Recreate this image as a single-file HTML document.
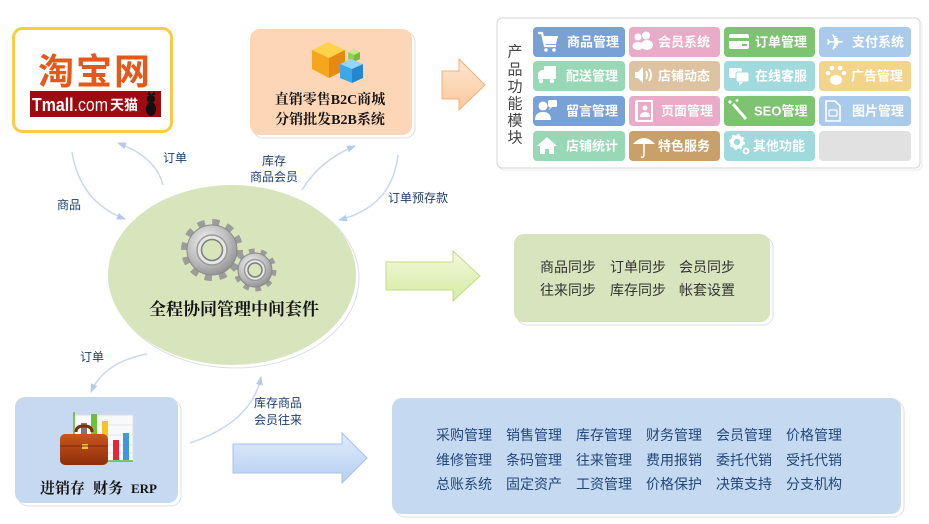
<!DOCTYPE html>
<html><head><meta charset="utf-8"><style>
html,body{margin:0;padding:0;background:#fff;}
svg{display:block;}
text{font-family:"Liberation Sans","Noto Sans CJK SC",sans-serif;}
.lbl{font-size:12px;fill:#1f3d6c;}
.tile{font-size:13px;font-weight:bold;fill:#fff;}
.ser{font-family:"Liberation Serif","Noto Serif CJK SC",serif;font-weight:bold;fill:#151515;}
.sync{font-size:14px;fill:#333;}
.erp{font-size:14px;fill:#24477a;}
</style></head><body>
<svg width="929" height="524" viewBox="0 0 929 524" xmlns="http://www.w3.org/2000/svg">
<defs>
 <marker id="ah" markerWidth="10" markerHeight="8" refX="8" refY="4" orient="auto" markerUnits="userSpaceOnUse">
   <path d="M0,0.5 L9,4 L0,7.5 Z" fill="#b6cbe7"/>
 </marker>
 <linearGradient id="gOr" x1="0" y1="0" x2="0" y2="1"><stop offset="0" stop-color="#fee7d2"/><stop offset="1" stop-color="#fac79b"/></linearGradient>
 <linearGradient id="gGr" x1="0" y1="0" x2="0" y2="1"><stop offset="0" stop-color="#f3fadf"/><stop offset="1" stop-color="#d5eaa0"/></linearGradient>
 <linearGradient id="gBl" x1="0" y1="0" x2="0" y2="1"><stop offset="0" stop-color="#e0ecfb"/><stop offset="1" stop-color="#b5cef2"/></linearGradient>
 <radialGradient id="gGear" cx="0.4" cy="0.35" r="0.7"><stop offset="0" stop-color="#f4f4f4"/><stop offset="0.6" stop-color="#bdbdbd"/><stop offset="1" stop-color="#8d8d8d"/></radialGradient>
 <linearGradient id="gCase" x1="0" y1="0" x2="0" y2="1"><stop offset="0" stop-color="#c9561c"/><stop offset="1" stop-color="#8e2f0c"/></linearGradient>
</defs>

<!-- Taobao box -->
<rect x="13.5" y="28.5" width="158" height="103" rx="9" fill="#fff" stroke="#fbcb45" stroke-width="3"/>
<text x="95" y="84" text-anchor="middle" font-size="36" font-weight="bold" fill="#e4591b" style="font-family:'Liberation Sans','Noto Sans CJK SC',sans-serif;letter-spacing:2px">淘宝网</text>
<rect x="30" y="91" width="131" height="26" fill="#9d0b10"/>
<text x="32" y="111" font-size="18" fill="#fff" textLength="76" lengthAdjust="spacingAndGlyphs"><tspan font-weight="bold">Tmall</tspan>.com</text>
<text x="110" y="110" font-size="14" font-weight="bold" fill="#fff">天猫</text>
<ellipse cx="151" cy="109" rx="5" ry="7" fill="#111"/>
<circle cx="151" cy="99" r="4" fill="#111"/>
<path d="M148,95 l1,-3 l2,3 M152,95 l2,-3 l1,3" fill="#111" stroke="#111"/>

<!-- Peach box -->
<rect x="253" y="32" width="162" height="106" rx="10" fill="#fff" stroke="#dcdcdc"/>
<rect x="250" y="29" width="162" height="106" rx="10" fill="#fcd6b7"/>
<!-- cubes -->
<polygon points="312,50 328,42 345,50 329,58" fill="#ffd24c"/>
<polygon points="312,50 329,58 329,78 312,69" fill="#f6a51c"/>
<polygon points="329,58 345,50 345,70 329,78" fill="#e48a0e"/>
<polygon points="348,52 354,49 360,52 354,55" fill="#c4e88a"/>
<polygon points="348,52 354,55 354,62 348,59" fill="#94cf55"/>
<polygon points="354,55 360,52 360,59 354,62" fill="#7ab93e"/>
<polygon points="340,64 351,59 363,64 352,69" fill="#94d6f8"/>
<polygon points="340,64 352,69 352,83 340,78" fill="#3da8e8"/>
<polygon points="352,69 363,64 363,78 352,83" fill="#2388cf"/>
<text x="330" y="104" text-anchor="middle" font-size="14" class="ser">直销零售B2C商城</text>
<text x="330" y="124" text-anchor="middle" font-size="14" class="ser">分销批发B2B系统</text>

<!-- orange arrow -->
<polygon points="442,71 459,71 459,59 485,85 459,110 459,99 442,99" fill="url(#gOr)" stroke="#f3b07a" stroke-width="1"/>

<!-- product panel -->
<rect x="499" y="20" width="423" height="150" rx="5" fill="#fff" stroke="#ececec"/>
<rect x="497" y="18" width="423" height="150" rx="5" fill="#fff" stroke="#d6d6d6"/>
<g font-size="15" fill="#444" text-anchor="middle" dominant-baseline="central">
<text x="515" y="52">产</text><text x="515" y="70">品</text><text x="515" y="87">功</text><text x="515" y="104">能</text><text x="515" y="121">模</text><text x="515" y="138">块</text>
</g>
<!-- tiles -->
<rect x="533" y="27" width="92" height="30" rx="4" fill="#7aa1d5"/>
<rect x="629" y="27" width="91" height="30" rx="4" fill="#eaabc8"/>
<rect x="724" y="27" width="91" height="30" rx="4" fill="#7dc371"/>
<rect x="819" y="27" width="92" height="30" rx="4" fill="#aacaec"/>
<rect x="533" y="61" width="92" height="30" rx="4" fill="#98d8b6"/>
<rect x="629" y="61" width="91" height="30" rx="4" fill="#dec3a2"/>
<rect x="724" y="61" width="91" height="30" rx="4" fill="#a1dadd"/>
<rect x="819" y="61" width="92" height="30" rx="4" fill="#f2d58b"/>
<rect x="533" y="96" width="92" height="30" rx="4" fill="#7aa1d5"/>
<rect x="629" y="96" width="91" height="30" rx="4" fill="#eaabc8"/>
<rect x="724" y="96" width="91" height="30" rx="4" fill="#7dc371"/>
<rect x="819" y="96" width="92" height="30" rx="4" fill="#aacaec"/>
<rect x="533" y="131" width="92" height="30" rx="4" fill="#98d8b6"/>
<rect x="629" y="131" width="91" height="30" rx="4" fill="#c9a069"/>
<rect x="724" y="131" width="91" height="30" rx="4" fill="#a1dadd"/>
<rect x="819" y="131" width="92" height="30" rx="4" fill="#e1e1e1"/>
<g class="tile" dominant-baseline="central">
<text x="567" y="42">商品管理</text><text x="658" y="42">会员系统</text><text x="755" y="42">订单管理</text><text x="852" y="42">支付系统</text>
<text x="566" y="76">配送管理</text><text x="658" y="76">店铺动态</text><text x="755" y="76">在线客服</text><text x="851" y="76">广告管理</text>
<text x="566" y="111">留言管理</text><text x="661" y="111">页面管理</text><text x="754" y="111">SEO管理</text><text x="852" y="111">图片管理</text>
<text x="566" y="146">店铺统计</text><text x="658" y="146">特色服务</text><text x="753" y="146">其他功能</text>
</g>
<!-- tile icons -->
<g fill="#fff" stroke="none">
 <!-- cart -->
 <path d="M538,33 h4 l3,13 h11" fill="none" stroke="#fff" stroke-width="2.2"/>
 <path d="M543,36 h15 l-2,8 h-11 z" fill="#fff"/>
 <circle cx="546" cy="50" r="1.8"/><circle cx="554" cy="50" r="1.8"/>
 <!-- people -->
 <circle cx="638" cy="37" r="3.5"/><circle cx="646" cy="35.5" r="4"/>
 <ellipse cx="638" cy="46" rx="5.5" ry="4"/><ellipse cx="647" cy="45" rx="6" ry="5"/>
 <!-- card -->
 <rect x="729" y="34" width="20" height="15" rx="2"/>
 <rect x="729" y="38" width="20" height="3" fill="#7dc371"/>
 <rect x="742" y="44" width="5" height="2" fill="#7dc371"/>
 <!-- truck -->
 <rect x="544" y="66" width="12" height="13"/>
 <path d="M538,79 v-6 l3,-3 h3 v9 z"/>
 <circle cx="541" cy="81" r="2.2"/><circle cx="552" cy="81" r="2.2"/>
 <!-- speaker -->
 <path d="M635,72 h3 l5,-5 v16 l-5,-5 h-3 z"/>
 <path d="M646,71 q2,4 0,8 M649,69 q4,6 0,12" fill="none" stroke="#fff" stroke-width="1.8"/>
 <!-- chat -->
 <rect x="729" y="68" width="13" height="10" rx="2"/>
 <rect x="736" y="72" width="13" height="10" rx="2" fill="#fff" stroke="#a1dadd"/>
 <path d="M739,82 l0,4 l4,-4z"/>
 <!-- paw -->
 <ellipse cx="836" cy="80" rx="6" ry="5"/>
 <circle cx="828" cy="73" r="2.3"/><circle cx="832" cy="68" r="2.3"/><circle cx="840" cy="68" r="2.3"/><circle cx="844" cy="73" r="2.3"/>
 <!-- person + bubble -->
 <circle cx="543" cy="106" r="4.5"/>
 <path d="M535,120 q0,-8 8,-8 q8,0 8,8 z"/>
 <rect x="548" y="100" width="9" height="7" rx="1.5"/>
 <path d="M550,107 l-1,3 l3,-3z"/>
 <!-- contact book -->
 <rect x="637" y="101" width="15" height="20" fill="none" stroke="#fff" stroke-width="2"/>
 <rect x="635" y="101" width="3" height="20"/>
 <circle cx="645" cy="108" r="2.5"/>
 <path d="M640,117 q0,-5 5,-5 q5,0 5,5z"/>
 <!-- wand -->
 <path d="M733,104 L746,119" stroke="#fff" stroke-width="3"/>
 <path d="M730,100 v4 M728,102 h4 M737,99 v3 M735.5,100.5 h3" stroke="#fff" stroke-width="1.2"/>
 <!-- document -->
 <path d="M826,101 h9 l5,5 v15 h-14 z" fill="none" stroke="#fff" stroke-width="1.6"/>
 <rect x="829" y="110" width="8" height="6" rx="1" fill="none" stroke="#fff" stroke-width="1.2"/>
 <!-- house -->
 <path d="M537,146 l10,-9 l10,9 h-3 v8 h-5 v-5 h-4 v5 h-5 v-8 z"/>
 <!-- umbrella -->
 <path d="M633,144 q11,-12 22,0 z"/>
 <path d="M644,143 v12 q0,3 -3,2" fill="none" stroke="#fff" stroke-width="1.5"/>
 <!-- gears -->
 <circle cx="737" cy="142" r="5" fill="none" stroke="#fff" stroke-width="3.5"/>
 <circle cx="737" cy="142" r="7" fill="none" stroke="#fff" stroke-width="2" stroke-dasharray="2.5 3"/>
 <circle cx="746" cy="151" r="2.5" fill="none" stroke="#fff" stroke-width="1.8"/>
</g>
<text x="826" y="50" font-size="22" fill="#fff" style="font-family:'DejaVu Sans',sans-serif">✈</text>

<!-- connectors -->
<g fill="none" stroke="#c9d8ec" stroke-width="1.5">
 <path d="M163,185 Q156,157 118,143" marker-end="url(#ah)"/>
 <path d="M72,152 Q80,202 125,219" marker-end="url(#ah)"/>
 <path d="M302,190 Q320,160 355,146" marker-end="url(#ah)"/>
 <path d="M398,155 Q392,207 339,220" marker-end="url(#ah)"/>
 <path d="M147,354 Q104,362 91,392" marker-end="url(#ah)"/>
 <path d="M190,443 Q252,422 261,377" marker-end="url(#ah)"/>
</g>
<g class="lbl" dominant-baseline="central">
 <text x="163" y="158">订单</text>
 <text x="262" y="161">库存</text>
 <text x="250" y="177">商品会员</text>
 <text x="388" y="198">订单预存款</text>
 <text x="57" y="205">商品</text>
 <text x="80" y="357">订单</text>
 <text x="254" y="403">库存商品</text>
 <text x="254" y="420">会员往来</text>
</g>

<!-- central ellipse -->
<ellipse cx="235" cy="278" rx="124" ry="90" fill="#fff" stroke="#dedede"/>
<ellipse cx="232" cy="275" rx="124" ry="90" fill="#d7e4bc"/>
<!-- gears -->
<g>
 <circle cx="212" cy="250" r="27" fill="none" stroke="#9c9c9c" stroke-width="8" stroke-dasharray="7 7.14"/>
 <circle cx="212" cy="250" r="25" fill="url(#gGear)" stroke="#8a8a8a" stroke-width="1"/>
 <circle cx="212" cy="250" r="15" fill="#e6e6e6" stroke="#9a9a9a" stroke-width="1.5"/>
 <circle cx="212" cy="250" r="10.5" fill="#d7e4bc" stroke="#7d7d7d" stroke-width="1.5"/>
 <circle cx="255" cy="270" r="18.5" fill="none" stroke="#9c9c9c" stroke-width="6" stroke-dasharray="5.5 6.1"/>
 <circle cx="255" cy="270" r="17" fill="url(#gGear)" stroke="#8a8a8a" stroke-width="1"/>
 <circle cx="255" cy="270" r="10.5" fill="#e6e6e6" stroke="#9a9a9a" stroke-width="1.5"/>
 <circle cx="255" cy="270" r="7" fill="#d7e4bc" stroke="#7d7d7d" stroke-width="1.5"/>
</g>
<text x="234" y="315" text-anchor="middle" font-size="17" class="ser">全程协同管理中间套件</text>

<!-- green arrow -->
<polygon points="386,262 453,262 453,251 480,276 453,301 453,290 386,290" fill="url(#gGr)" stroke="#c3da88" stroke-width="1"/>

<!-- sync box -->
<rect x="517" y="237" width="256" height="88" rx="10" fill="#fff" stroke="#dedede"/>
<rect x="514" y="234" width="256" height="88" rx="10" fill="#d8e4bd"/>
<g class="sync" dominant-baseline="central">
 <text x="540" y="267">商品同步</text><text x="610" y="267">订单同步</text><text x="679" y="267">会员同步</text>
 <text x="540" y="290">往来同步</text><text x="610" y="290">库存同步</text><text x="679" y="290">帐套设置</text>
</g>

<!-- ERP box -->
<rect x="18" y="400" width="163" height="106" rx="10" fill="#fff" stroke="#dedede"/>
<rect x="15" y="397" width="163" height="106" rx="10" fill="#c6d9f1"/>
<!-- chart icon -->
<rect x="75" y="415" width="58" height="46" fill="#f7f9fb" stroke="#e0e0e0"/>
<g stroke="#e6e6e6" stroke-width="1"><path d="M75,425 h58 M75,435 h58 M75,445 h58 M75,453 h58"/></g>
<rect x="81" y="423" width="6" height="37" fill="#7a7a7a"/>
<rect x="91" y="414" width="6" height="46" fill="#6fc13a"/>
<rect x="102" y="421" width="6" height="39" fill="#f7c41d"/>
<rect x="113" y="440" width="6" height="20" fill="#e3263a"/>
<rect x="123" y="433" width="6" height="27" fill="#3b9bd9"/>
<path d="M74,412 V461 H133" fill="none" stroke="#5db83a" stroke-width="1.5"/>
<path d="M76,432 q0,-6 8,-6 q8,0 8,6" fill="none" stroke="#7e2c0c" stroke-width="3"/>
<rect x="60" y="434" width="48" height="31" rx="5" fill="url(#gCase)"/>
<rect x="82" y="444" width="6" height="5" fill="#f2c23a"/>
<path d="M60,446 h48" stroke="#7a2809" stroke-width="1"/>
<text x="40" y="493" font-size="15" class="ser">进销存</text>
<text x="93" y="493" font-size="15" class="ser">财务</text>
<text x="131" y="493" font-size="13" class="ser">ERP</text>

<!-- blue arrow -->
<polygon points="233,444 342,444 342,433 367,458 342,483 342,473 233,473" fill="url(#gBl)" stroke="#a6c2ea" stroke-width="1"/>

<!-- big blue box -->
<rect x="395" y="401" width="509" height="116" rx="10" fill="#fff" stroke="#dedede"/>
<rect x="392" y="398" width="509" height="116" rx="10" fill="#c5d9f1"/>
<g class="erp" dominant-baseline="central">
 <text x="436" y="435">采购管理</text><text x="506" y="435">销售管理</text><text x="576" y="435">库存管理</text><text x="646" y="435">财务管理</text><text x="716" y="435">会员管理</text><text x="786" y="435">价格管理</text>
 <text x="436" y="460">维修管理</text><text x="506" y="460">条码管理</text><text x="576" y="460">往来管理</text><text x="646" y="460">费用报销</text><text x="716" y="460">委托代销</text><text x="786" y="460">受托代销</text>
 <text x="436" y="484">总账系统</text><text x="506" y="484">固定资产</text><text x="576" y="484">工资管理</text><text x="646" y="484">价格保护</text><text x="716" y="484">决策支持</text><text x="786" y="484">分支机构</text>
</g>
</svg>
</body></html>
